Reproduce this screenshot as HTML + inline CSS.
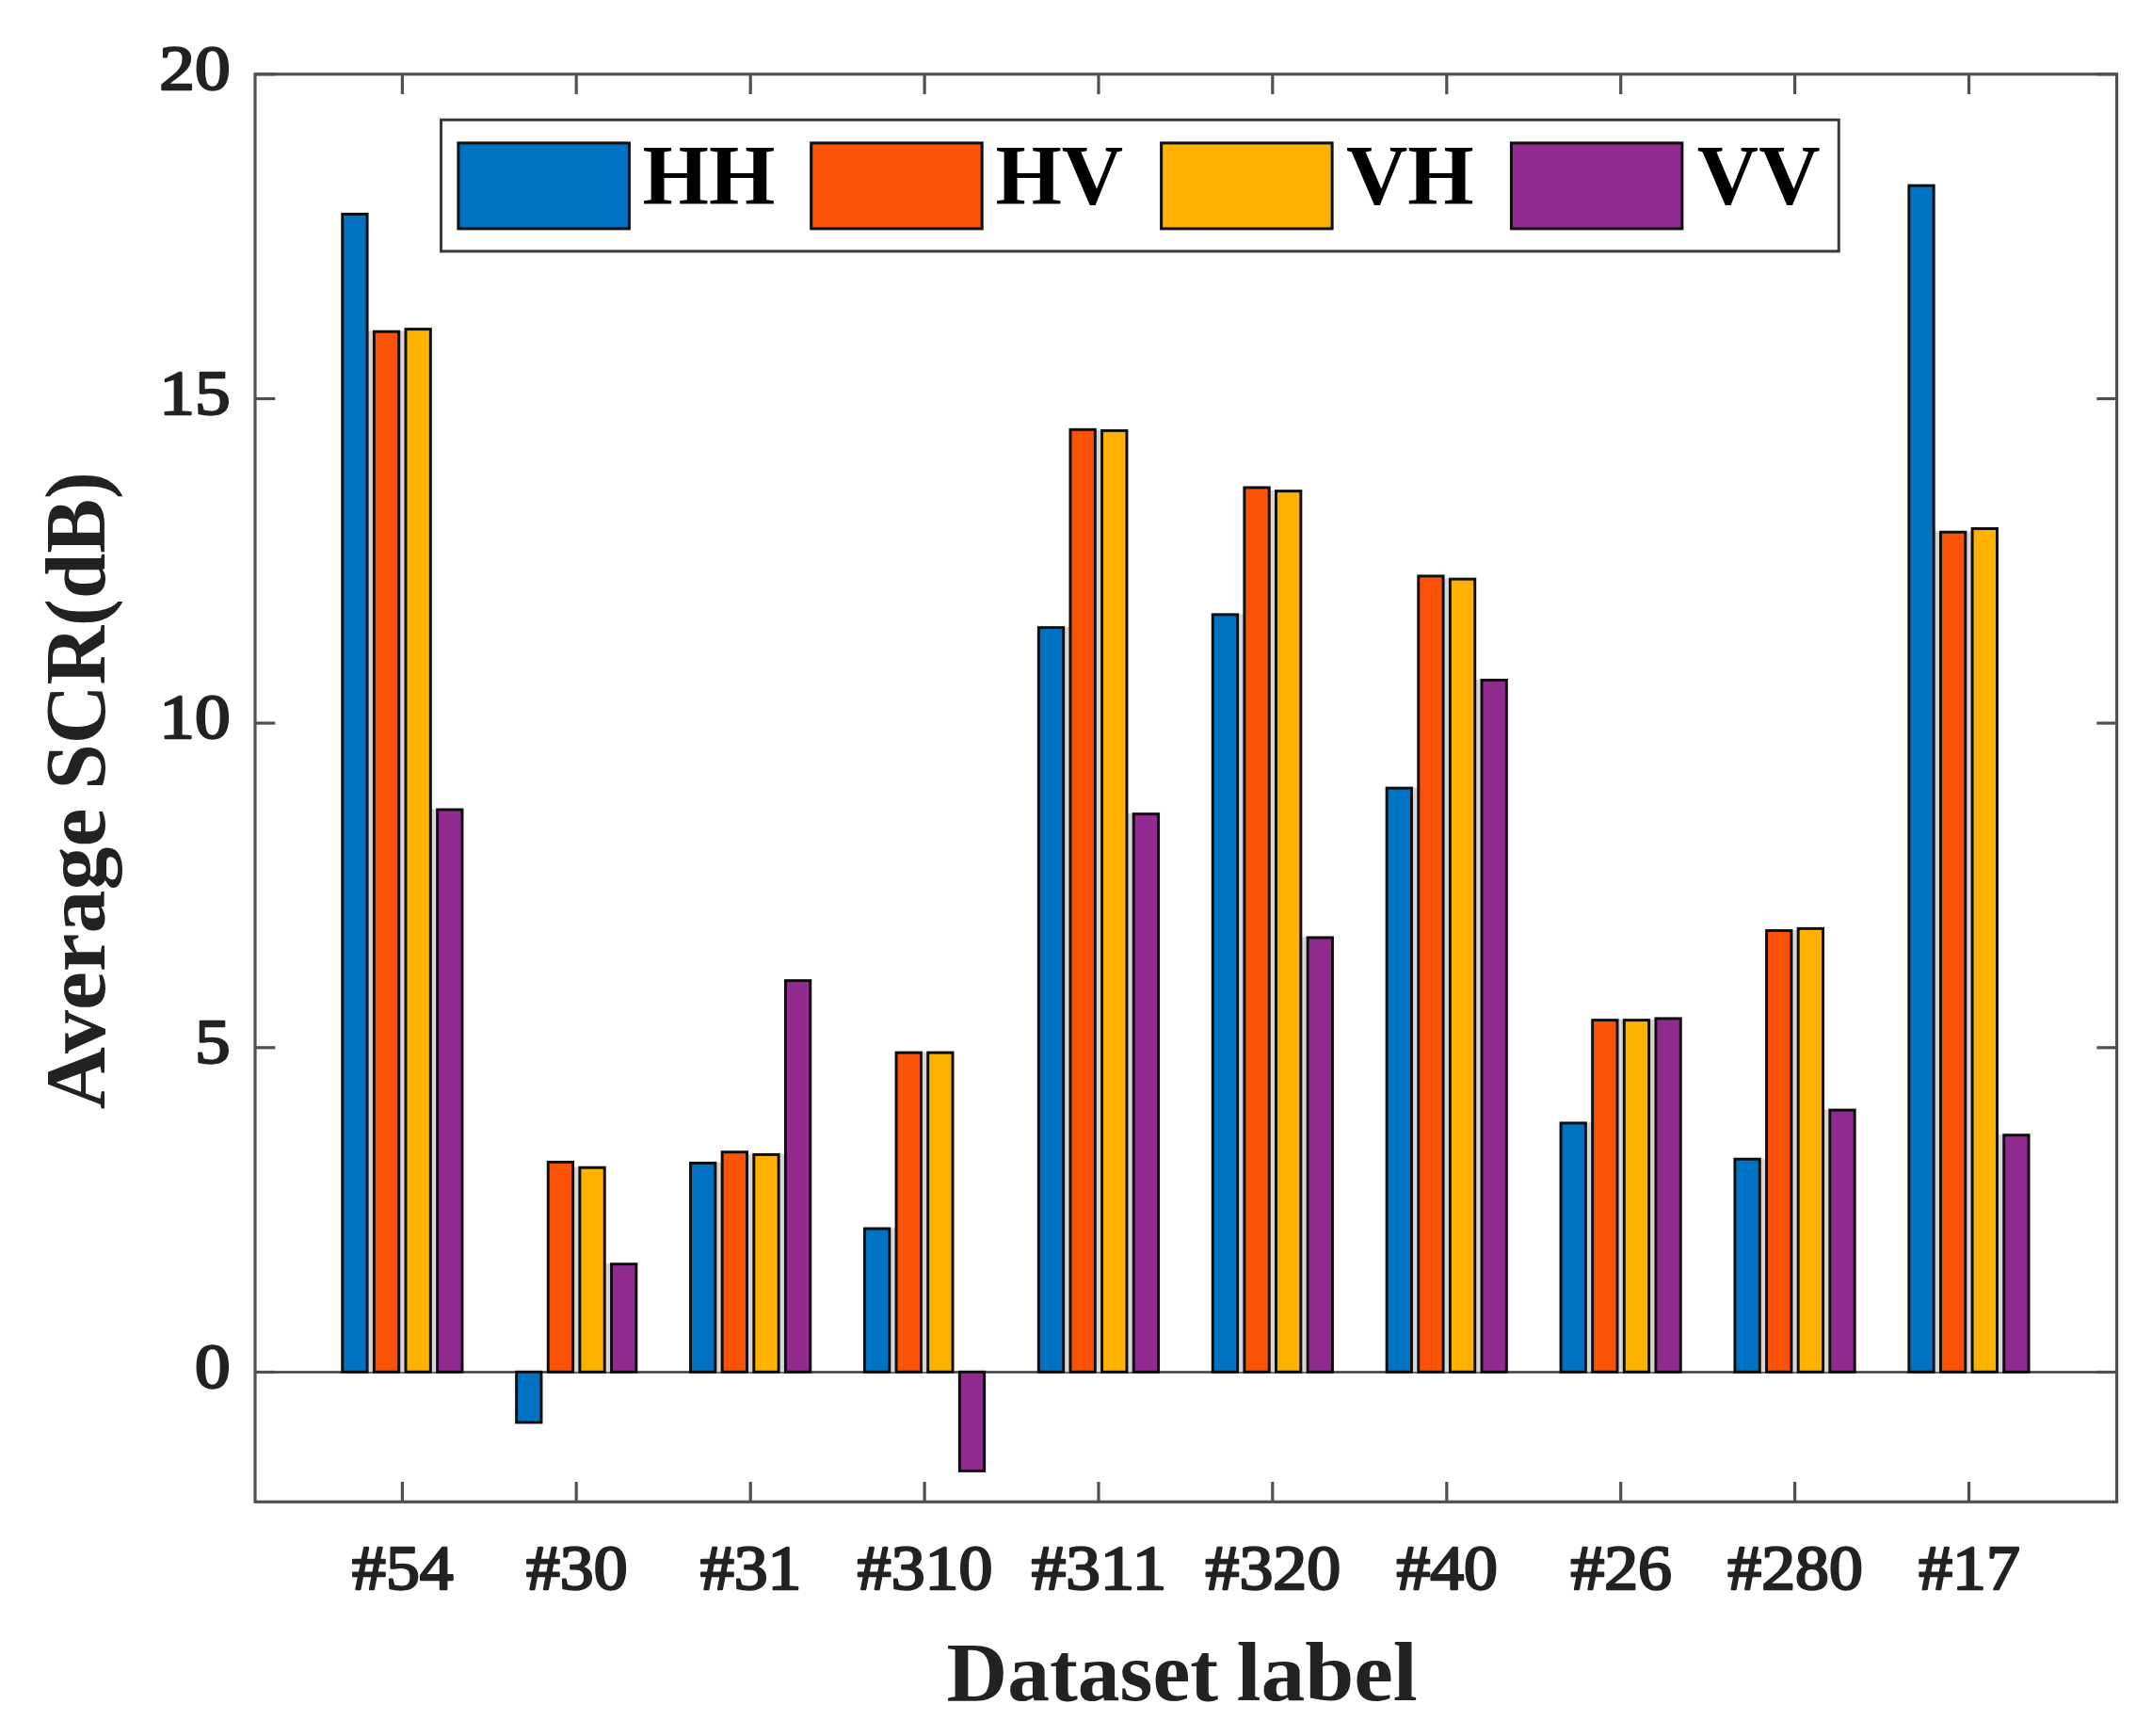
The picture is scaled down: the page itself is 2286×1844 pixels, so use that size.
<!DOCTYPE html>
<html lang="en"><head><meta charset="utf-8"><title>Average SCR per dataset</title>
<style>html,body{margin:0;padding:0;background:#fff}body{width:2286px;height:1844px;overflow:hidden}svg{display:block}text{font-family:"Liberation Serif","DejaVu Serif",serif;font-weight:bold}.tk text{font-weight:normal}</style></head><body>
<svg width="2286" height="1844" viewBox="0 0 2286 1844">
<defs><filter id="soft" x="0" y="0" width="100%" height="100%" filterUnits="userSpaceOnUse" color-interpolation-filters="sRGB"><feGaussianBlur stdDeviation="0.7"/></filter></defs>
<g filter="url(#soft)">
<rect x="0" y="0" width="2286" height="1844" fill="#ffffff"/>
<line x1="271.0" y1="1457.5" x2="2248.6" y2="1457.5" stroke="#3c3c3c" stroke-width="2.6"/>
<g fill="#d6d6d6">
<rect x="391.06" y="351.60" width="5.33" height="1105.70"/>
<rect x="424.69" y="351.60" width="5.33" height="1105.70"/>
<rect x="458.31" y="859.40" width="5.33" height="597.90"/>
<rect x="609.58" y="1239.60" width="5.33" height="217.70"/>
<rect x="643.22" y="1342.10" width="5.33" height="115.20"/>
<rect x="760.86" y="1234.80" width="5.33" height="222.50"/>
<rect x="794.49" y="1225.80" width="5.33" height="231.50"/>
<rect x="828.12" y="1225.80" width="5.33" height="231.50"/>
<rect x="945.75" y="1304.40" width="5.33" height="152.90"/>
<rect x="979.38" y="1117.50" width="5.33" height="339.80"/>
<rect x="1130.66" y="666.00" width="5.33" height="791.30"/>
<rect x="1164.29" y="456.80" width="5.33" height="1000.50"/>
<rect x="1197.92" y="864.00" width="5.33" height="593.30"/>
<rect x="1315.56" y="652.20" width="5.33" height="805.10"/>
<rect x="1349.18" y="521.00" width="5.33" height="936.30"/>
<rect x="1382.82" y="995.30" width="5.33" height="462.00"/>
<rect x="1500.46" y="836.50" width="5.33" height="620.80"/>
<rect x="1534.09" y="614.50" width="5.33" height="842.80"/>
<rect x="1567.72" y="721.80" width="5.33" height="735.50"/>
<rect x="1685.36" y="1192.30" width="5.33" height="265.00"/>
<rect x="1718.99" y="1083.00" width="5.33" height="374.30"/>
<rect x="1752.62" y="1083.00" width="5.33" height="374.30"/>
<rect x="1870.26" y="1230.60" width="5.33" height="226.70"/>
<rect x="1903.89" y="987.90" width="5.33" height="469.40"/>
<rect x="1937.52" y="1178.50" width="5.33" height="278.80"/>
<rect x="2055.16" y="564.60" width="5.33" height="892.70"/>
<rect x="2088.79" y="564.60" width="5.33" height="892.70"/>
<rect x="2122.42" y="1205.10" width="5.33" height="252.20"/>
</g>
<g stroke="#0d0d0d" stroke-width="2.95" stroke-linejoin="miter">
<rect x="363.73" y="227.43" width="26.35" height="1229.88" fill="#0072C3"/>
<rect x="397.36" y="352.23" width="26.35" height="1105.07" fill="#FA5308"/>
<rect x="430.99" y="349.62" width="26.35" height="1107.67" fill="#FFB100"/>
<rect x="464.62" y="860.02" width="26.35" height="597.27" fill="#922B90"/>
<rect x="548.63" y="1457.30" width="26.35" height="53.63" fill="#0072C3"/>
<rect x="582.26" y="1234.42" width="26.35" height="222.88" fill="#FA5308"/>
<rect x="615.89" y="1240.22" width="26.35" height="217.08" fill="#FFB100"/>
<rect x="649.52" y="1342.72" width="26.35" height="114.58" fill="#922B90"/>
<rect x="733.53" y="1235.42" width="26.35" height="221.88" fill="#0072C3"/>
<rect x="767.16" y="1223.72" width="26.35" height="233.58" fill="#FA5308"/>
<rect x="800.79" y="1226.42" width="26.35" height="230.88" fill="#FFB100"/>
<rect x="834.42" y="1041.62" width="26.35" height="415.67" fill="#922B90"/>
<rect x="918.43" y="1305.03" width="26.35" height="152.27" fill="#0072C3"/>
<rect x="952.06" y="1118.12" width="26.35" height="339.17" fill="#FA5308"/>
<rect x="985.69" y="1118.12" width="26.35" height="339.17" fill="#FFB100"/>
<rect x="1019.32" y="1457.30" width="26.35" height="105.13" fill="#922B90"/>
<rect x="1103.33" y="666.62" width="26.35" height="790.67" fill="#0072C3"/>
<rect x="1136.96" y="456.32" width="26.35" height="1000.97" fill="#FA5308"/>
<rect x="1170.59" y="457.43" width="26.35" height="999.88" fill="#FFB100"/>
<rect x="1204.22" y="864.62" width="26.35" height="592.67" fill="#922B90"/>
<rect x="1288.23" y="652.83" width="26.35" height="804.47" fill="#0072C3"/>
<rect x="1321.86" y="517.92" width="26.35" height="939.38" fill="#FA5308"/>
<rect x="1355.49" y="521.62" width="26.35" height="935.67" fill="#FFB100"/>
<rect x="1389.12" y="995.92" width="26.35" height="461.38" fill="#922B90"/>
<rect x="1473.13" y="837.12" width="26.35" height="620.17" fill="#0072C3"/>
<rect x="1506.76" y="611.92" width="26.35" height="845.38" fill="#FA5308"/>
<rect x="1540.39" y="615.12" width="26.35" height="842.17" fill="#FFB100"/>
<rect x="1574.02" y="722.42" width="26.35" height="734.88" fill="#922B90"/>
<rect x="1658.03" y="1192.92" width="26.35" height="264.38" fill="#0072C3"/>
<rect x="1691.66" y="1083.62" width="26.35" height="373.67" fill="#FA5308"/>
<rect x="1725.29" y="1083.62" width="26.35" height="373.67" fill="#FFB100"/>
<rect x="1758.92" y="1081.92" width="26.35" height="375.38" fill="#922B90"/>
<rect x="1842.93" y="1231.22" width="26.35" height="226.08" fill="#0072C3"/>
<rect x="1876.56" y="988.52" width="26.35" height="468.77" fill="#FA5308"/>
<rect x="1910.19" y="986.33" width="26.35" height="470.97" fill="#FFB100"/>
<rect x="1943.82" y="1179.12" width="26.35" height="278.17" fill="#922B90"/>
<rect x="2027.83" y="197.12" width="26.35" height="1260.17" fill="#0072C3"/>
<rect x="2061.46" y="565.23" width="26.35" height="892.07" fill="#FA5308"/>
<rect x="2095.09" y="561.52" width="26.35" height="895.77" fill="#FFB100"/>
<rect x="2128.72" y="1205.72" width="26.35" height="251.58" fill="#922B90"/>
</g>
<g stroke="#505050" stroke-width="3.20" fill="none" stroke-linecap="butt">
<rect x="271.0" y="78.8" width="1977.6" height="1516.5"/>
<line x1="427.4" y1="1595.3" x2="427.4" y2="1574.0"/>
<line x1="427.4" y1="78.8" x2="427.4" y2="100.1"/>
<line x1="612.2" y1="1595.3" x2="612.2" y2="1574.0"/>
<line x1="612.2" y1="78.8" x2="612.2" y2="100.1"/>
<line x1="797.2" y1="1595.3" x2="797.2" y2="1574.0"/>
<line x1="797.2" y1="78.8" x2="797.2" y2="100.1"/>
<line x1="982.1" y1="1595.3" x2="982.1" y2="1574.0"/>
<line x1="982.1" y1="78.8" x2="982.1" y2="100.1"/>
<line x1="1167.0" y1="1595.3" x2="1167.0" y2="1574.0"/>
<line x1="1167.0" y1="78.8" x2="1167.0" y2="100.1"/>
<line x1="1351.8" y1="1595.3" x2="1351.8" y2="1574.0"/>
<line x1="1351.8" y1="78.8" x2="1351.8" y2="100.1"/>
<line x1="1536.8" y1="1595.3" x2="1536.8" y2="1574.0"/>
<line x1="1536.8" y1="78.8" x2="1536.8" y2="100.1"/>
<line x1="1721.7" y1="1595.3" x2="1721.7" y2="1574.0"/>
<line x1="1721.7" y1="78.8" x2="1721.7" y2="100.1"/>
<line x1="1906.6" y1="1595.3" x2="1906.6" y2="1574.0"/>
<line x1="1906.6" y1="78.8" x2="1906.6" y2="100.1"/>
<line x1="2091.5" y1="1595.3" x2="2091.5" y2="1574.0"/>
<line x1="2091.5" y1="78.8" x2="2091.5" y2="100.1"/>
<line x1="271.0" y1="1457.5" x2="292.3" y2="1457.5"/>
<line x1="2248.6" y1="1457.5" x2="2227.3" y2="1457.5"/>
<line x1="271.0" y1="1112.8" x2="292.3" y2="1112.8"/>
<line x1="2248.6" y1="1112.8" x2="2227.3" y2="1112.8"/>
<line x1="271.0" y1="768.1" x2="292.3" y2="768.1"/>
<line x1="2248.6" y1="768.1" x2="2227.3" y2="768.1"/>
<line x1="271.0" y1="423.5" x2="292.3" y2="423.5"/>
<line x1="2248.6" y1="423.5" x2="2227.3" y2="423.5"/>
<line x1="271.0" y1="78.8" x2="292.3" y2="78.8"/>
<line x1="2248.6" y1="78.8" x2="2227.3" y2="78.8"/>
</g>
<g fill="#222222" stroke="#222222" stroke-width="2.4" stroke-linejoin="round" class="tk" font-size="68.7px" text-anchor="end">
<text x="244.6" y="1473.7" textLength="37.6" lengthAdjust="spacingAndGlyphs">0</text>
<text x="244.6" y="1129.0" textLength="37.6" lengthAdjust="spacingAndGlyphs">5</text>
<text x="244.6" y="784.4" textLength="75.3" lengthAdjust="spacingAndGlyphs">10</text>
<text x="244.6" y="439.7" textLength="75.3" lengthAdjust="spacingAndGlyphs">15</text>
<text x="244.6" y="95.0" textLength="75.3" lengthAdjust="spacingAndGlyphs">20</text>
</g>
<g fill="#222222" stroke="#222222" stroke-width="2.4" stroke-linejoin="round" class="tk" font-size="67.7px" text-anchor="middle">
<text x="427.9" y="1688.3" textLength="107.6" lengthAdjust="spacingAndGlyphs">#54</text>
<text x="612.8" y="1688.3" textLength="107.6" lengthAdjust="spacingAndGlyphs">#30</text>
<text x="797.7" y="1688.3" textLength="107.6" lengthAdjust="spacingAndGlyphs">#31</text>
<text x="982.6" y="1688.3" textLength="143.5" lengthAdjust="spacingAndGlyphs">#310</text>
<text x="1167.5" y="1688.3" textLength="143.5" lengthAdjust="spacingAndGlyphs">#311</text>
<text x="1352.3" y="1688.3" textLength="143.5" lengthAdjust="spacingAndGlyphs">#320</text>
<text x="1537.2" y="1688.3" textLength="107.6" lengthAdjust="spacingAndGlyphs">#40</text>
<text x="1722.2" y="1688.3" textLength="107.6" lengthAdjust="spacingAndGlyphs">#26</text>
<text x="1907.1" y="1688.3" textLength="143.5" lengthAdjust="spacingAndGlyphs">#280</text>
<text x="2092.0" y="1688.3" textLength="107.6" lengthAdjust="spacingAndGlyphs">#17</text>
</g>
<text y="1806.3" fill="#222222" font-size="89.6px"><tspan x="1005.5" textLength="288.6" lengthAdjust="spacingAndGlyphs">Dataset</tspan><tspan> </tspan><tspan x="1313.4" textLength="192.5" lengthAdjust="spacingAndGlyphs">label</tspan></text>
<text transform="translate(110.8,1178.5) rotate(-90)" fill="#222222" font-size="92px"><tspan x="0" textLength="319.8" lengthAdjust="spacingAndGlyphs">Average</tspan><tspan> </tspan><tspan x="340" textLength="337.5" lengthAdjust="spacingAndGlyphs">SCR(dB)</tspan></text>
<rect x="468.5" y="127.3" width="1484.8" height="139.6" fill="#ffffff" stroke="#3a3a3a" stroke-width="3"/>
<g stroke="#0d0d0d" stroke-width="3.00">
<rect x="486.90" y="151.90" width="181.50" height="91.00" fill="#0072C3"/>
<rect x="861.70" y="151.90" width="181.50" height="91.00" fill="#FA5308"/>
<rect x="1233.60" y="151.90" width="181.50" height="91.00" fill="#FFB100"/>
<rect x="1605.40" y="151.90" width="181.50" height="91.00" fill="#922B90"/>
</g>
<g fill="#000000" font-size="90.5px">
<text x="682.6" y="216.5">HH</text>
<text x="1057.4" y="216.5">HV</text>
<text x="1430.0" y="216.5">VH</text>
<text x="1802.8" y="216.5">VV</text>
</g>
</g>
</svg></body></html>
